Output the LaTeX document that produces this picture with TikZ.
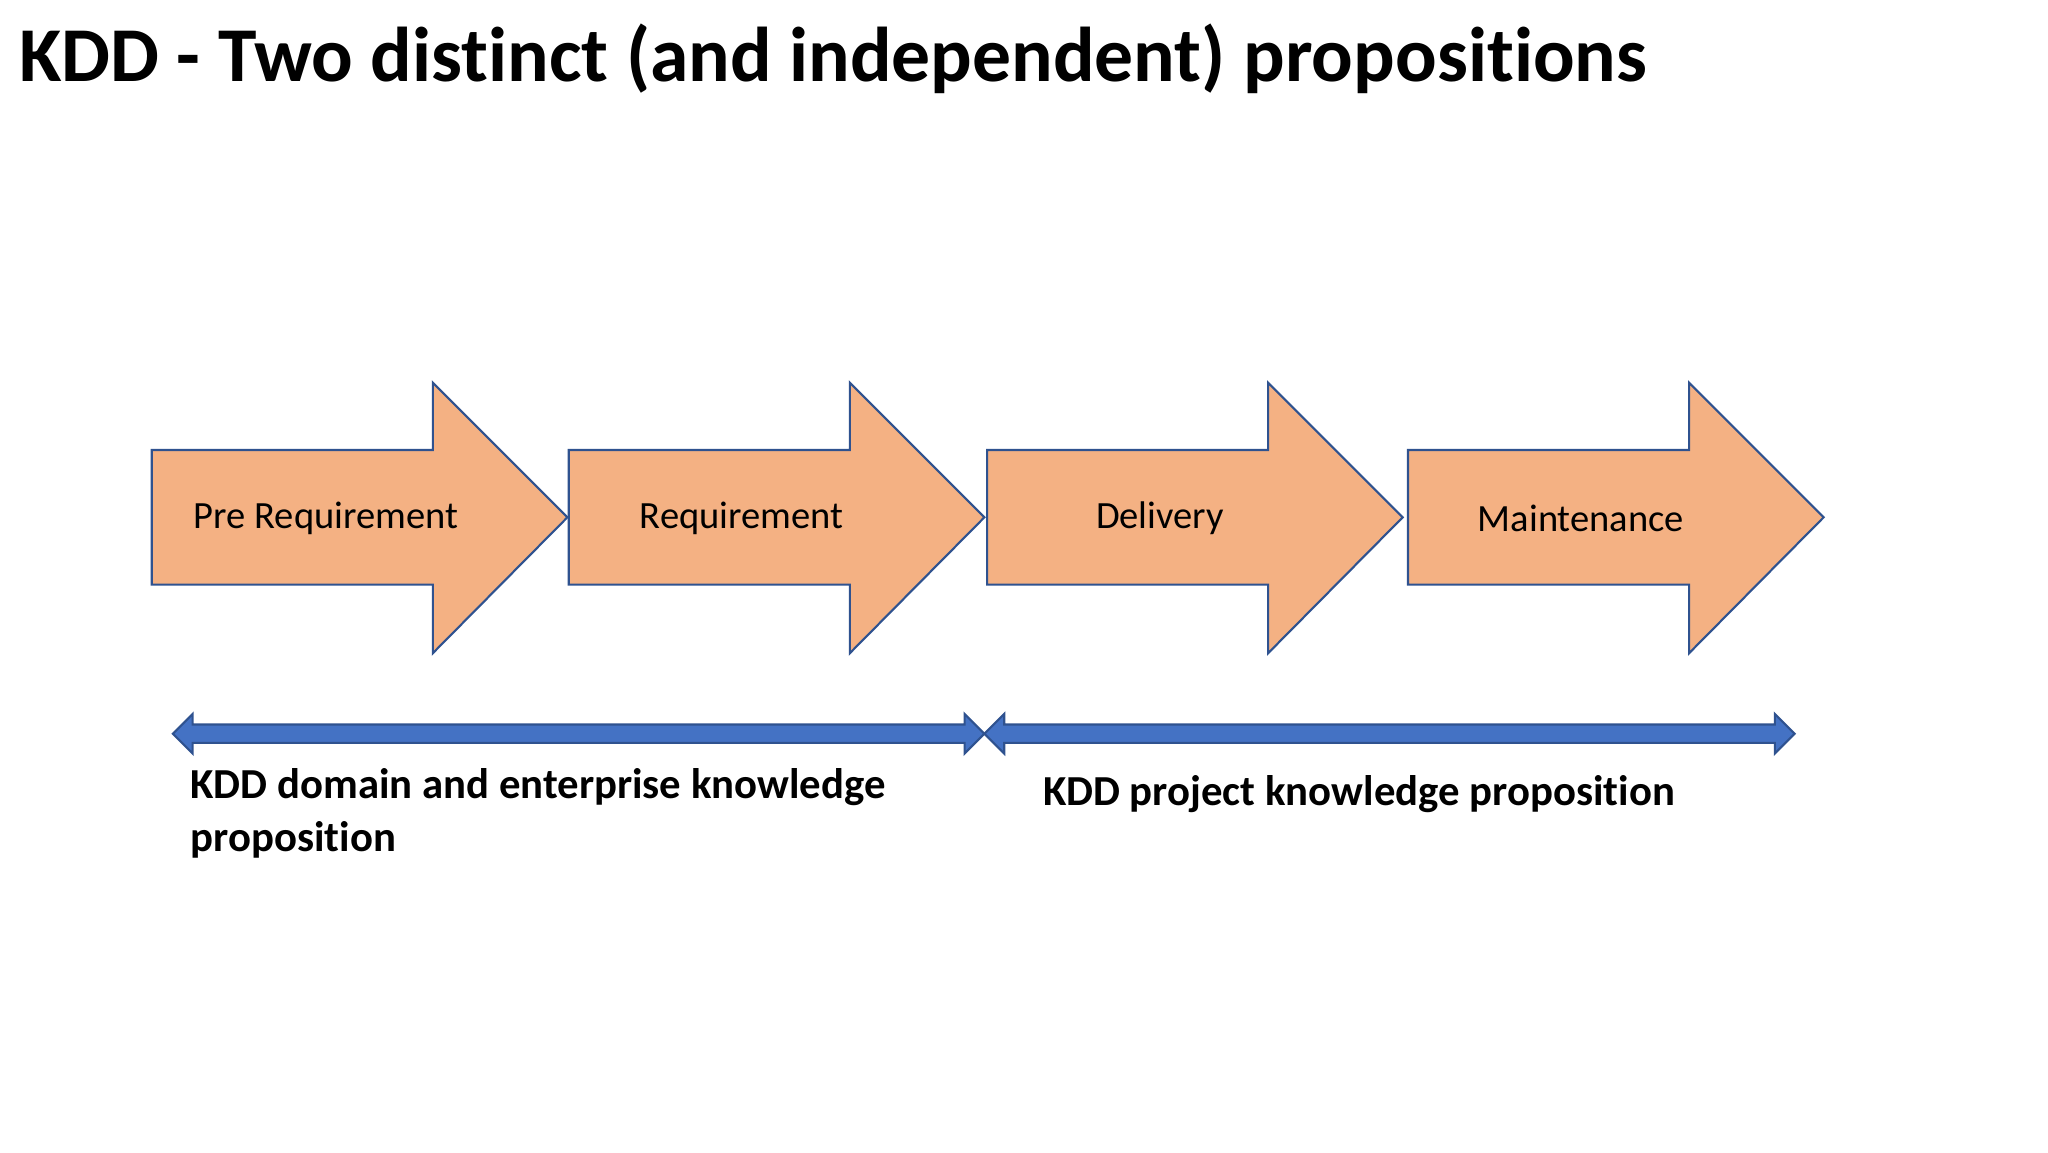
\documentclass[tikz,border=0pt]{standalone}
\usepackage{fontspec}
\setmainfont{Carlito}[RawFeature=-liga]
\usetikzlibrary{positioning}
\definecolor{stepfill}{RGB}{244,177,131}
\definecolor{stepline}{RGB}{47,82,143}
\definecolor{spanfill}{RGB}{68,114,196}
\begin{document}
\begin{tikzpicture}[
    x=0.5pt, y=-0.5pt,
    phase/.style={fill=stepfill, draw=stepline, line width=0.8pt},
    span/.style={fill=spanfill, draw=stepline, line width=0.8pt},
    phaselabel/.style={font=\fontsize{14.6}{17}\selectfont, inner sep=0pt},
    spanlabel/.style={font=\fontsize{16.2}{20}\selectfont\bfseries, align=left, anchor=north west, inner sep=0pt}
]
    \useasboundingbox (0,0) rectangle (1552,873);
    \node[anchor=base west, inner sep=0pt, font=\fontsize{29.4}{34}\selectfont\bfseries] (title) at (14,62)
        {KDD - Two distinct (and independent) propositions};

    % Process phases
    \foreach \x/\t/\lx in {115/Pre Requirement/247, 431/Requirement/562, 748/Delivery/879, 1067/Maintenance/1198} {
        \draw[phase] (\x,341) -- (\x+213,341) -- (\x+213,290) -- (\x+315,392)
            -- (\x+213,495) -- (\x+213,443) -- (\x,443) -- cycle;
        \node[phaselabel] (s\x) at (\lx,393) {\t};
    }

    % Proposition spans
    \foreach \a/\b in {131/746, 746/1360} {
        \draw[span] (\a,556) -- (\a+15,541) -- (\a+15,549) -- (\b-15,549) -- (\b-15,541)
            -- (\b,556) -- (\b-15,571) -- (\b-15,563) -- (\a+15,563) -- (\a+15,571) -- cycle;
    }

    \node[spanlabel] (domain) at (144,582) {KDD domain and enterprise knowledge\\proposition};
    \node[spanlabel] (project) at (790,587) {KDD project knowledge proposition};
\end{tikzpicture}
\end{document}
